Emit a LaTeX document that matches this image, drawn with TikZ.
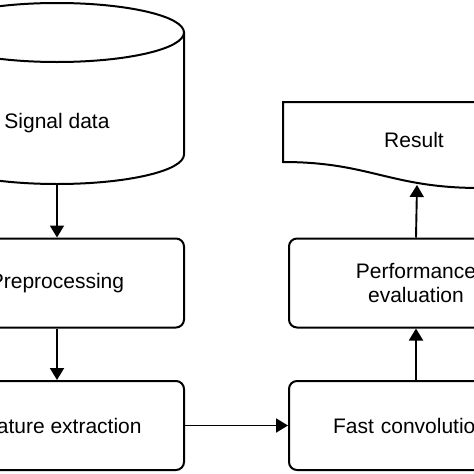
\documentclass[tikz,border=0pt]{standalone}
\usepackage{fontspec}
\setmainfont{Liberation Sans}
\usetikzlibrary{arrows.meta}
\begin{document}
\begin{tikzpicture}[x=1pt,y=-1pt,
  shapeline/.style={line width=2pt, draw=black},
  box/.style={draw, line width=2pt, rounded corners=8pt, minimum width=254pt, minimum height=89pt, font=\fontsize{21}{24}\selectfont, align=center, inner sep=0pt},
  lbl/.style={font=\fontsize{21}{24}\selectfont, inner sep=0pt},
  conn/.style={line width=1.9pt, -{Triangle[length=12pt,width=14pt]}}]
\useasboundingbox (0,0) rectangle (474,474);
\clip (0,0) rectangle (474,474);
% cylinder (Signal data)
\draw[shapeline] (57,32.5) ellipse [x radius=127, y radius=29.5];
\draw[shapeline] (-70,32.5) -- (-70,154.5)
  .. controls (-70,170.8) and (-13.1,184) .. (57,184)
  .. controls (127.1,184) and (184,170.8) .. (184,154.5) -- (184,32.5);
\node[lbl] (sig) at (57,123) {Signal data};
\coordinate (sigbot) at (57,184);
% document shape (Result)
\draw[shapeline] (283,162) -- (283,102) -- (551,102) -- (551,175)
  .. controls (530,185) and (510,188) .. (480,188)
  .. controls (390,188) and (370,162) .. (283,162) -- cycle;
\node[lbl] (res) at (414,140) {Result};
\coordinate (resbot) at (417,185);
% process boxes
\node[box] (pre) at (57,283) {Preprocessing};
\node[box] (feat) at (57,425.5) {Feature extraction};
\node[box] (perf) at (416,283) {Performance\\evaluation};
\node[box, text width=166pt, align=left, inner xsep=44pt] (fast) at (416,425.5) {Fast convolution};
% connectors
\draw[conn] (sigbot) -- (pre.north);
\draw[conn] (pre.south) -- (feat.north);
\draw[conn] (feat.east) -- (fast.west);
\draw[conn] (fast.north) -- (perf.south);
\draw[conn] (perf.north) -- (resbot);
\end{tikzpicture}
\end{document}
